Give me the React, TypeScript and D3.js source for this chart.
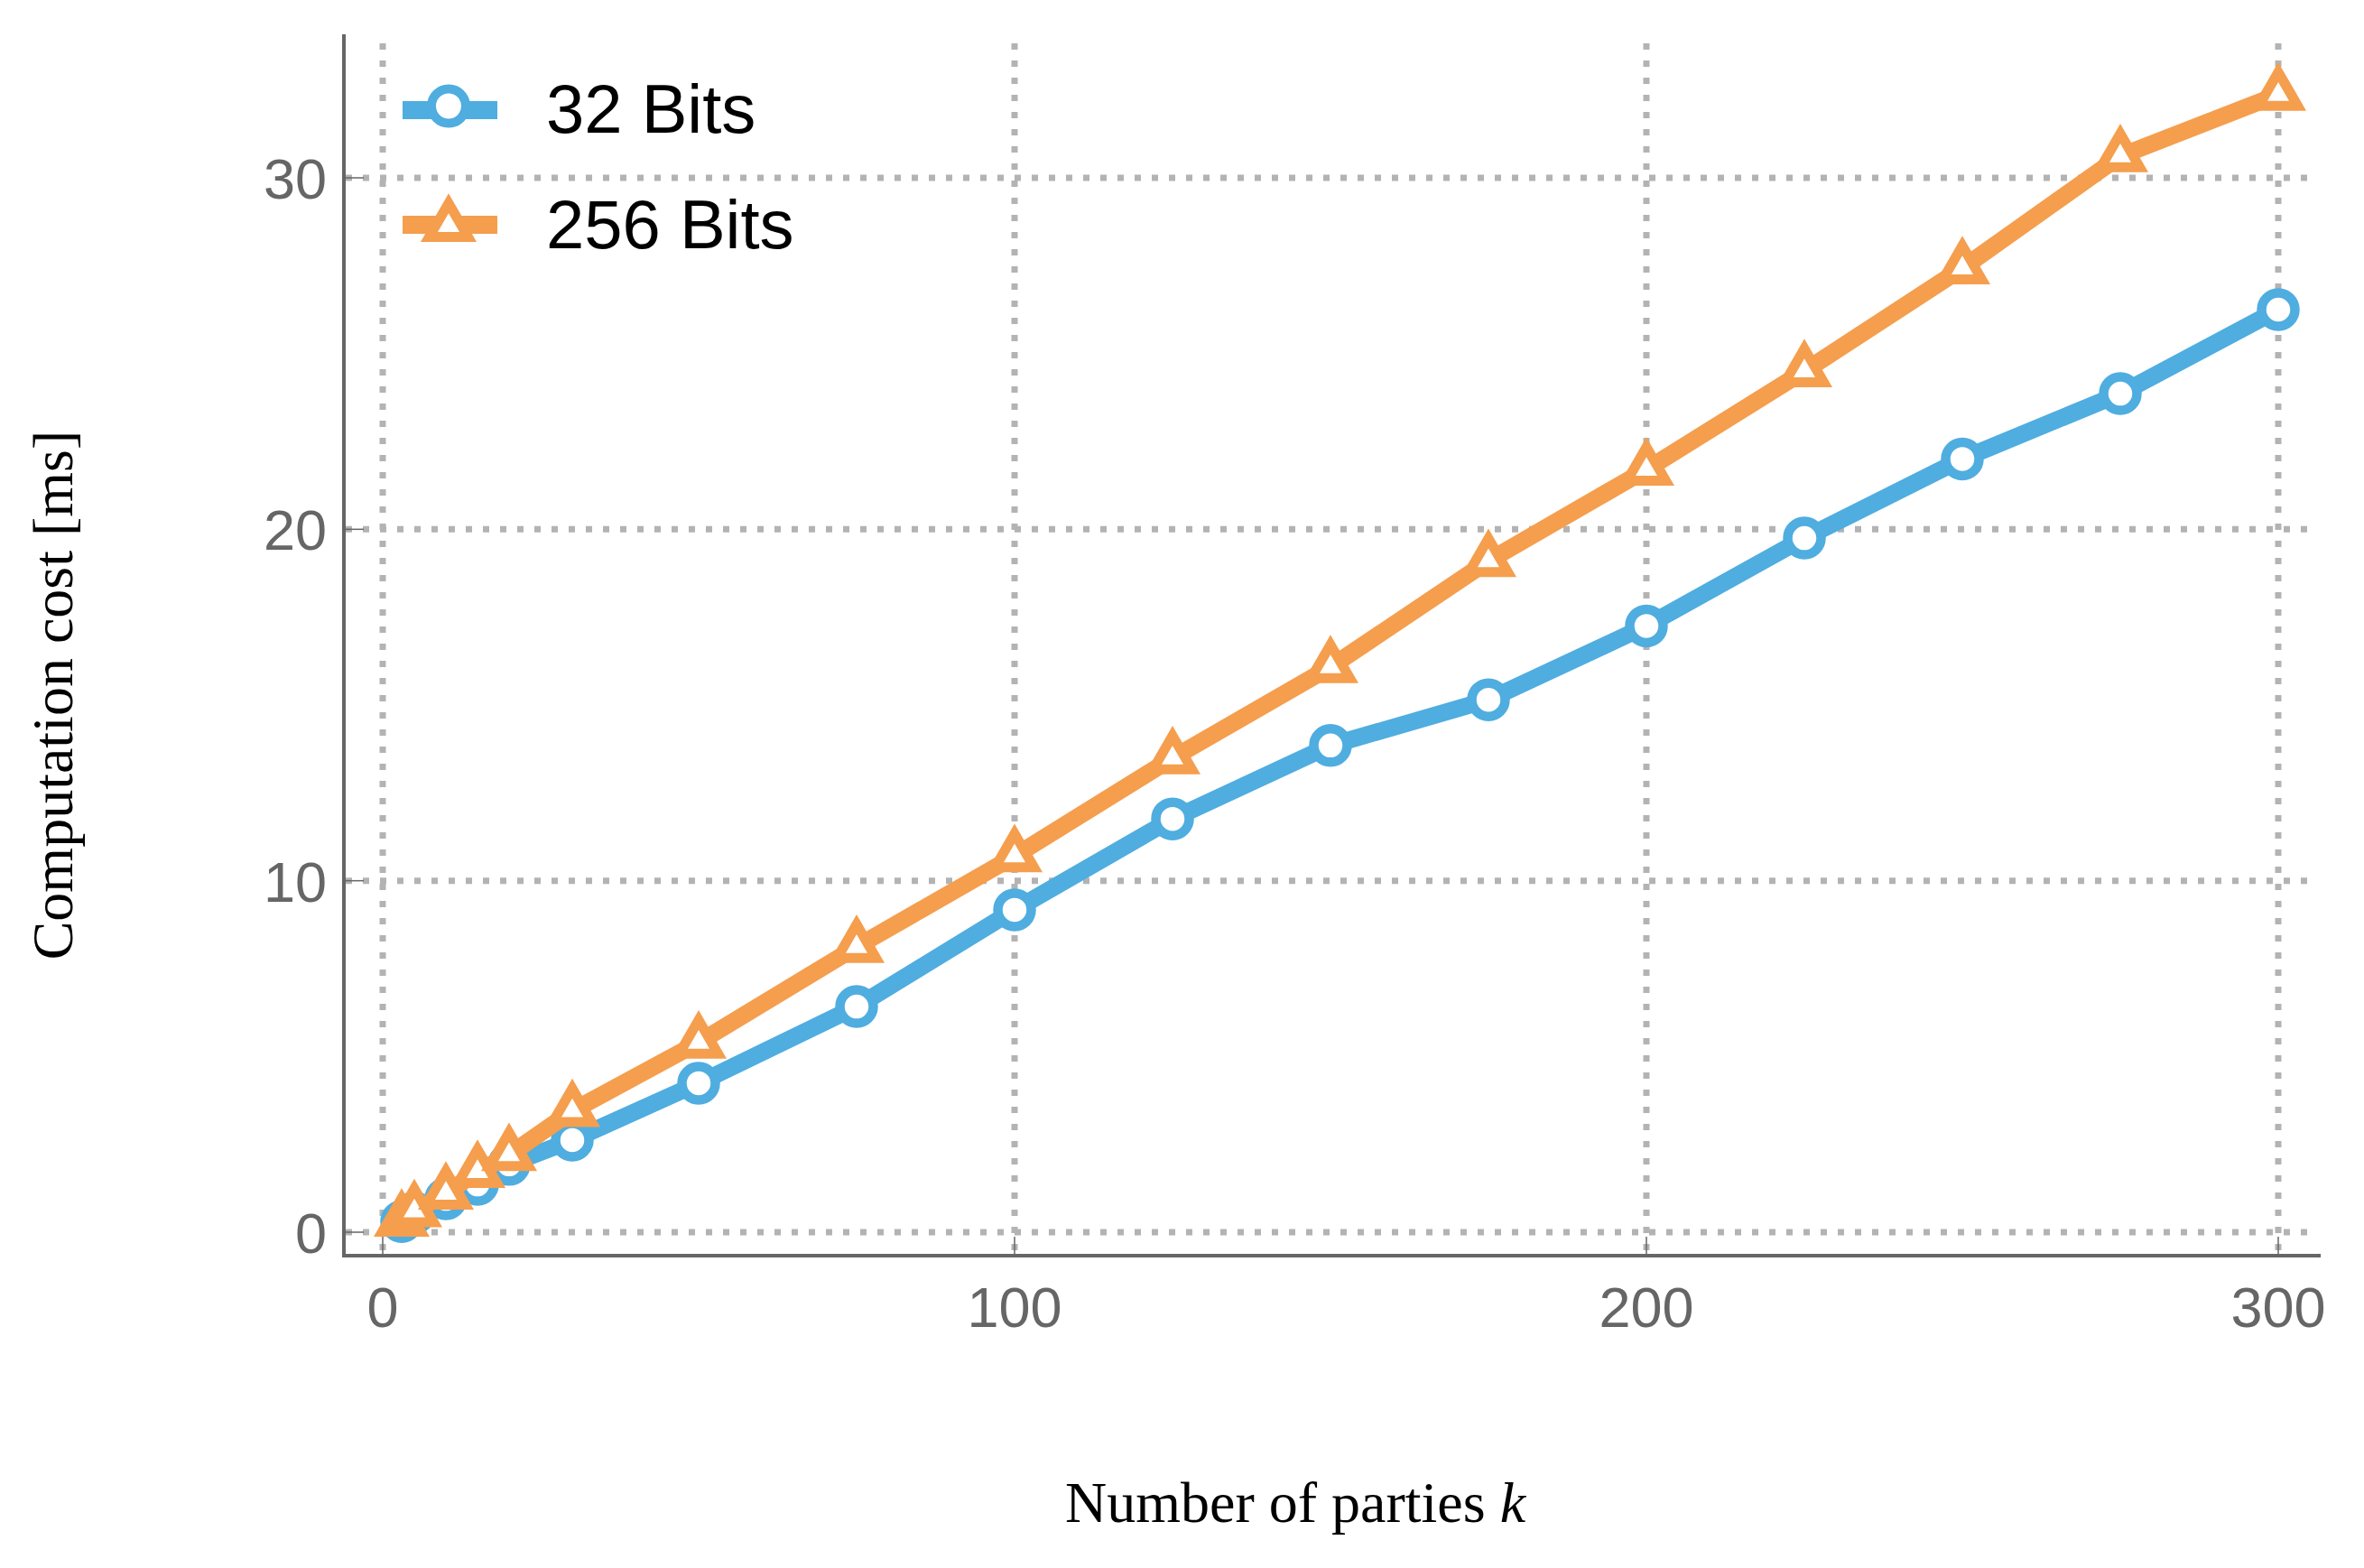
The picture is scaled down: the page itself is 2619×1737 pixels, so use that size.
import React, { useRef, useEffect } from 'react';
import * as d3 from 'd3';

const parties = [3, 5, 10, 15, 20, 30, 50, 75, 100, 125, 150, 175, 200, 225, 250, 275, 300];
const bits32 = [0.3, 0.55, 0.95, 1.36, 1.93, 2.62, 4.24, 6.42, 9.17, 11.76, 13.85, 15.15, 17.25, 19.75, 22.0, 23.86, 26.25];
const bits256 = [0.33, 0.6, 1.1, 1.72, 2.2, 3.45, 5.4, 8.12, 10.7, 13.49, 16.08, 19.1, 21.7, 24.5, 27.43, 30.62, 32.37];
const xTicks = [0, 100, 200, 300];
const yTicks = [0, 10, 20, 30];
const seriesNames = ['32 Bits', '256 Bits'];

const BLUE = '#4fade0';
const ORANGE = '#f59e4d';
const AXIS = '#666666';
const GRID = '#b3b3b3';

const W = 2619;
const H = 1737;

const App = () => {
  const chartRef = useRef(null);

  useEffect(() => {
    d3.select(chartRef.current).select('svg').remove();

    const svg = d3.select(chartRef.current)
      .append('svg')
      .attr('width', W)
      .attr('height', H)
      .style('position', 'absolute')
      .style('left', 0)
      .style('top', 0)
      .style('background', '#fff');

    // frame box
    const frame = { left: 381, right: 2571, top: 38, bottom: 1391 };

    const x = d3.scaleLinear().domain([0, 300]).range([424, 2524]);
    const y = d3.scaleLinear().domain([0, 30]).range([1365, 197]);

    // grid
    const grid = svg.append('g')
      .attr('stroke', GRID)
      .attr('stroke-width', 7)
      .attr('stroke-dasharray', '7,12');
    grid.selectAll('.vg')
      .data(xTicks)
      .enter()
      .append('line')
      .attr('x1', d => x(d))
      .attr('x2', d => x(d))
      .attr('y1', 48)
      .attr('y2', frame.bottom);
    grid.selectAll('.hg')
      .data(yTicks)
      .enter()
      .append('line')
      .attr('x1', frame.left + 2)
      .attr('x2', 2566)
      .attr('y1', d => y(d))
      .attr('y2', d => y(d));

    // axes
    svg.append('line')
      .attr('x1', frame.left).attr('x2', frame.left)
      .attr('y1', frame.top).attr('y2', frame.bottom + 2)
      .attr('stroke', AXIS).attr('stroke-width', 4);
    svg.append('line')
      .attr('x1', frame.left - 2).attr('x2', frame.right)
      .attr('y1', frame.bottom).attr('y2', frame.bottom)
      .attr('stroke', AXIS).attr('stroke-width', 4);

    // ticks
    svg.selectAll('.xt')
      .data(xTicks)
      .enter()
      .append('line')
      .attr('x1', d => x(d)).attr('x2', d => x(d))
      .attr('y1', frame.bottom).attr('y2', frame.bottom - 21)
      .attr('stroke', AXIS).attr('stroke-width', 1.5);
    svg.selectAll('.yt')
      .data(yTicks)
      .enter()
      .append('line')
      .attr('x1', frame.left).attr('x2', frame.left + 22)
      .attr('y1', d => y(d)).attr('y2', d => y(d))
      .attr('stroke', AXIS).attr('stroke-width', 1.5);

    // tick labels
    svg.selectAll('.xl')
      .data(xTicks)
      .enter()
      .append('text')
      .attr('x', d => x(d))
      .attr('y', 1470)
      .attr('text-anchor', 'middle')
      .attr('font-family', '"Liberation Sans", Arial, sans-serif')
      .attr('font-size', 63)
      .attr('fill', AXIS)
      .text(d => d);
    svg.selectAll('.yl')
      .data(yTicks)
      .enter()
      .append('text')
      .attr('x', 362)
      .attr('y', d => y(d) + 23)
      .attr('text-anchor', 'end')
      .attr('font-family', '"Liberation Sans", Arial, sans-serif')
      .attr('font-size', 63)
      .attr('fill', AXIS)
      .text(d => d);

    // axis titles
    const xTitle = svg.append('text')
      .attr('x', 1180)
      .attr('y', 1686)
      .attr('font-family', '"Liberation Serif", "Times New Roman", serif')
      .attr('font-size', 64)
      .attr('fill', '#000');
    xTitle.append('tspan').text('Number of parties ');
    xTitle.append('tspan').attr('font-style', 'italic').text('k');

    svg.append('text')
      .attr('transform', 'translate(80,770) rotate(-90)')
      .attr('text-anchor', 'middle')
      .attr('font-family', '"Liberation Serif", "Times New Roman", serif')
      .attr('font-size', 64)
      .attr('fill', '#000')
      .text('Computation cost [ms]');

    const tri = (cx, cy, s) => {
      const r = s / Math.sqrt(3);
      const h = s / (2 * Math.sqrt(3));
      return `M${cx},${cy - r}L${cx + s / 2},${cy + h}L${cx - s / 2},${cy + h}Z`;
    };

    const line = d3.line()
      .x(d => x(d[0]))
      .y(d => y(d[1]));

    const series = [
      { name: seriesNames[0], values: bits32, color: BLUE, shape: 'circle' },
      { name: seriesNames[1], values: bits256, color: ORANGE, shape: 'triangle' },
    ];

    series.forEach(s => {
      const pts = parties.map((p, i) => [p, s.values[i]]);
      const g = svg.append('g');
      g.append('path')
        .datum(pts)
        .attr('d', line)
        .attr('fill', 'none')
        .attr('stroke', s.color)
        .attr('stroke-width', 19)
        .attr('stroke-linejoin', 'miter');
      if (s.shape === 'circle') {
        g.selectAll('circle')
          .data(pts)
          .enter()
          .append('circle')
          .attr('cx', d => x(d[0]))
          .attr('cy', d => y(d[1]))
          .attr('r', 18.5)
          .attr('fill', '#fff')
          .attr('stroke', s.color)
          .attr('stroke-width', 10.5);
      } else {
        g.selectAll('path.m')
          .data(pts)
          .enter()
          .append('path')
          .attr('class', 'm')
          .attr('d', d => tri(x(d[0]), y(d[1]), 43))
          .attr('fill', '#fff')
          .attr('stroke', s.color)
          .attr('stroke-width', 11)
          .attr('stroke-linejoin', 'miter');
      }
    });

    // legend
    const legend = svg.append('g');
    const rows = [{ ly: 122, my: 117.5 }, { ly: 249, my: 250 }];
    series.forEach((s, i) => {
      const r = rows[i];
      legend.append('line')
        .attr('x1', 446).attr('x2', 551)
        .attr('y1', r.ly).attr('y2', r.ly)
        .attr('stroke', s.color).attr('stroke-width', 20);
      if (s.shape === 'circle') {
        legend.append('circle')
          .attr('cx', 497).attr('cy', r.my).attr('r', 19)
          .attr('fill', '#fff').attr('stroke', s.color).attr('stroke-width', 10);
      } else {
        legend.append('path')
          .attr('d', tri(497, r.my, 43))
          .attr('fill', '#fff').attr('stroke', s.color).attr('stroke-width', 11);
      }
      legend.append('text')
        .attr('x', 605)
        .attr('y', r.ly + 25 + (i === 0 ? 0 : 1))
        .attr('font-family', '"Liberation Sans", Arial, sans-serif')
        .attr('font-size', 76)
        .attr('fill', '#000')
        .text(s.name);
    });
  }, []);

  return (
    <div ref={chartRef} />
  );
};

export default App;
